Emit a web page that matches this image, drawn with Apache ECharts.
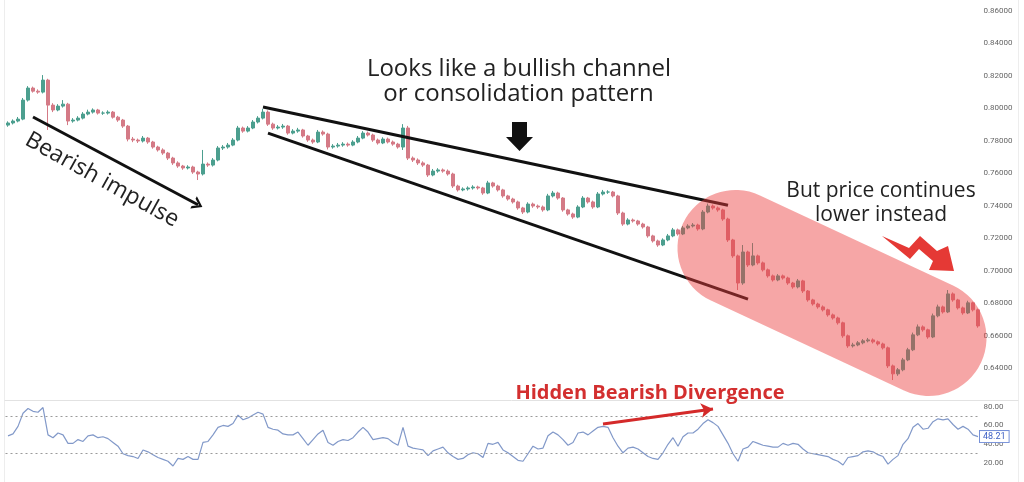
<!DOCTYPE html>
<html><head><meta charset="utf-8">
<script src="https://cdn.jsdelivr.net/npm/echarts@6/dist/echarts.min.js"></script>
<style>html,body{margin:0;padding:0;background:#fff}#c{width:1024px;height:482px}</style>
</head><body><div id="c"></div>
<script>
const opens=[
0.7895,0.7908,0.7920,0.7932,0.8049,0.8123,0.8104,0.8098,0.8172,0.8018,
0.7988,0.8012,0.8024,0.7920,0.7926,0.7938,0.7963,0.7975,0.7988,0.7969,
0.7969,0.7975,0.7944,0.7926,0.7889,0.7809,0.7803,0.7797,0.7815,0.7791,
0.7760,0.7742,0.7723,0.7692,0.7662,0.7643,0.7631,0.7637,0.7606,0.7594,
0.7655,0.7649,0.7680,0.7754,0.7760,0.7772,0.7803,0.7877,0.7858,0.7877,
0.7914,0.7938,0.7975,0.7901,0.7877,0.7883,0.7889,0.7846,0.7858,0.7865,
0.7828,0.7803,0.7791,0.7852,0.7840,0.7760,0.7766,0.7772,0.7778,0.7772,
0.7791,0.7815,0.7846,0.7834,0.7803,0.7785,0.7809,0.7791,0.7778,0.7760,
0.7877,0.7692,0.7680,0.7662,0.7649,0.7588,0.7612,0.7619,0.7612,0.7594,
0.7520,0.7496,0.7502,0.7508,0.7514,0.7508,0.7477,0.7539,0.7520,0.7496,
0.7459,0.7440,0.7422,0.7385,0.7360,0.7409,0.7397,0.7391,0.7373,0.7459,
0.7477,0.7446,0.7373,0.7348,0.7329,0.7391,0.7446,0.7422,0.7391,0.7471,
0.7483,0.7483,0.7459,0.7354,0.7286,0.7311,0.7305,0.7286,0.7268,0.7213,
0.7182,0.7157,0.7188,0.7213,0.7250,0.7225,0.7262,0.7274,0.7280,0.7256,
0.7360,0.7397,0.7385,0.7373,0.7317,0.7188,0.7090,0.6923,0.7114,0.7034,
0.7090,0.7047,0.7004,0.6967,0.6942,0.6967,0.6954,0.6923,0.6899,0.6936,
0.6874,0.6819,0.6794,0.6776,0.6758,0.6727,0.6708,0.6678,0.6598,0.6536,
0.6542,0.6555,0.6567,0.6573,0.6561,0.6548,0.6524,0.6413,0.6364,0.6389,
0.6450,0.6512,0.6604,0.6653,0.6635,0.6591,0.6721,0.6776,0.6745,0.6856,
0.6819,0.6770,0.6739,0.6801,0.6758];
const closes=[
0.7908,0.7920,0.7932,0.8049,0.8123,0.8104,0.8098,0.8172,0.8018,0.7988,
0.8012,0.8024,0.7920,0.7926,0.7938,0.7963,0.7975,0.7988,0.7969,0.7969,
0.7975,0.7944,0.7926,0.7889,0.7809,0.7803,0.7797,0.7815,0.7791,0.7760,
0.7742,0.7723,0.7692,0.7662,0.7643,0.7631,0.7637,0.7606,0.7594,0.7655,
0.7649,0.7680,0.7754,0.7760,0.7772,0.7803,0.7877,0.7858,0.7877,0.7914,
0.7938,0.7975,0.7901,0.7877,0.7883,0.7889,0.7846,0.7858,0.7865,0.7828,
0.7803,0.7791,0.7852,0.7840,0.7760,0.7766,0.7772,0.7778,0.7772,0.7791,
0.7815,0.7846,0.7834,0.7803,0.7785,0.7809,0.7791,0.7778,0.7760,0.7877,
0.7692,0.7680,0.7662,0.7649,0.7588,0.7612,0.7619,0.7612,0.7594,0.7520,
0.7496,0.7502,0.7508,0.7514,0.7508,0.7477,0.7539,0.7520,0.7496,0.7459,
0.7440,0.7422,0.7385,0.7360,0.7409,0.7397,0.7391,0.7373,0.7459,0.7477,
0.7446,0.7373,0.7348,0.7329,0.7391,0.7446,0.7422,0.7391,0.7471,0.7483,
0.7483,0.7459,0.7354,0.7286,0.7311,0.7305,0.7286,0.7268,0.7213,0.7182,
0.7157,0.7188,0.7213,0.7250,0.7225,0.7262,0.7274,0.7280,0.7256,0.7360,
0.7397,0.7385,0.7373,0.7317,0.7188,0.7090,0.6923,0.7114,0.7034,0.7090,
0.7047,0.7004,0.6967,0.6942,0.6967,0.6954,0.6923,0.6899,0.6936,0.6874,
0.6819,0.6794,0.6776,0.6758,0.6727,0.6708,0.6678,0.6598,0.6536,0.6542,
0.6555,0.6567,0.6573,0.6561,0.6548,0.6524,0.6413,0.6364,0.6389,0.6450,
0.6512,0.6604,0.6653,0.6635,0.6591,0.6721,0.6776,0.6745,0.6856,0.6819,
0.6770,0.6739,0.6801,0.6758,0.6659];
const lows=[
0.7885,0.7899,0.7912,0.7925,0.8040,0.8095,0.8088,0.8090,0.7865,0.7975,
0.7980,0.8003,0.7895,0.7910,0.7918,0.7930,0.7955,0.7966,0.7960,0.7958,
0.7960,0.7935,0.7915,0.7878,0.7795,0.7790,0.7785,0.7788,0.7780,0.7750,
0.7732,0.7712,0.7680,0.7650,0.7632,0.7620,0.7622,0.7595,0.7557,0.7585,
0.7638,0.7640,0.7672,0.7742,0.7750,0.7765,0.7795,0.7848,0.7850,0.7870,
0.7905,0.7930,0.7890,0.7866,0.7868,0.7872,0.7836,0.7838,0.7848,0.7818,
0.7792,0.7780,0.7784,0.7830,0.7745,0.7750,0.7756,0.7762,0.7762,0.7765,
0.7783,0.7808,0.7825,0.7792,0.7775,0.7778,0.7782,0.7768,0.7750,0.7742,
0.7680,0.7668,0.7650,0.7638,0.7576,0.7580,0.7602,0.7602,0.7584,0.7508,
0.7486,0.7488,0.7492,0.7498,0.7498,0.7466,0.7470,0.7510,0.7486,0.7448,
0.7430,0.7412,0.7374,0.7348,0.7352,0.7386,0.7380,0.7362,0.7365,0.7450,
0.7436,0.7362,0.7338,0.7318,0.7322,0.7384,0.7412,0.7380,0.7384,0.7462,
0.7472,0.7450,0.7342,0.7275,0.7278,0.7295,0.7276,0.7258,0.7202,0.7172,
0.7146,0.7150,0.7180,0.7205,0.7215,0.7218,0.7254,0.7265,0.7245,0.7248,
0.7352,0.7375,0.7362,0.7306,0.7176,0.7078,0.6880,0.6912,0.7022,0.7026,
0.7036,0.6994,0.6956,0.6932,0.6934,0.6944,0.6912,0.6888,0.6890,0.6862,
0.6808,0.6784,0.6765,0.6748,0.6716,0.6698,0.6667,0.6586,0.6524,0.6526,
0.6534,0.6546,0.6558,0.6551,0.6538,0.6514,0.6400,0.6326,0.6352,0.6380,
0.6442,0.6504,0.6596,0.6624,0.6580,0.6584,0.6712,0.6735,0.6738,0.6808,
0.6760,0.6728,0.6732,0.6748,0.6648];
const highs=[
0.7918,0.7930,0.7945,0.8062,0.8135,0.8132,0.8115,0.8203,0.8180,0.8030,
0.8024,0.8049,0.8032,0.7938,0.7950,0.7975,0.7990,0.7998,0.7995,0.7980,
0.7986,0.7982,0.7952,0.7933,0.7896,0.7822,0.7812,0.7828,0.7822,0.7798,
0.7768,0.7752,0.7730,0.7700,0.7672,0.7650,0.7648,0.7645,0.7614,0.7742,
0.7665,0.7692,0.7766,0.7772,0.7785,0.7815,0.7890,0.7886,0.7889,0.7926,
0.7950,0.7995,0.7985,0.7910,0.7895,0.7902,0.7896,0.7870,0.7878,0.7872,
0.7835,0.7812,0.7865,0.7862,0.7848,0.7778,0.7785,0.7790,0.7788,0.7802,
0.7828,0.7858,0.7855,0.7842,0.7812,0.7820,0.7818,0.7800,0.7786,0.7901,
0.7890,0.7702,0.7690,0.7672,0.7656,0.7625,0.7630,0.7628,0.7622,0.7602,
0.7528,0.7512,0.7518,0.7525,0.7522,0.7515,0.7552,0.7546,0.7528,0.7503,
0.7466,0.7448,0.7430,0.7392,0.7420,0.7418,0.7406,0.7400,0.7472,0.7490,
0.7485,0.7452,0.7380,0.7356,0.7402,0.7458,0.7453,0.7430,0.7483,0.7496,
0.7494,0.7490,0.7466,0.7362,0.7322,0.7320,0.7312,0.7294,0.7275,0.7220,
0.7190,0.7198,0.7225,0.7262,0.7258,0.7274,0.7285,0.7292,0.7288,0.7372,
0.7412,0.7406,0.7394,0.7380,0.7325,0.7195,0.7098,0.7157,0.7122,0.7169,
0.7098,0.7055,0.7012,0.6975,0.6978,0.6975,0.6962,0.6930,0.6948,0.6943,
0.6880,0.6826,0.6802,0.6785,0.6765,0.6735,0.6716,0.6685,0.6606,0.6555,
0.6566,0.6578,0.6585,0.6582,0.6569,0.6556,0.6532,0.6421,0.6400,0.6462,
0.6524,0.6618,0.6668,0.6662,0.6642,0.6735,0.6790,0.6784,0.6880,0.6865,
0.6826,0.6778,0.6814,0.6808,0.6766];
const rsi=[
49,51,59,73,78,75,74,79,50,47,
52,50,41,41,45,43,49,50,47,48,
46,42,38,30,28,27,25,34,32,29,
26,24,22,17,25,24,27,24,24,42,
43,50,58,60,59,62,71,66,68,71,
74,72,58,56,55,51,50,50,53,46,
39,45,51,55,42,39,43,45,44,47,
53,58,53,45,46,47,46,42,39,58,
38,36,35,34,28,33,35,37,31,27,
24,25,29,31,30,26,41,40,42,34,
31,27,23,22,30,38,35,36,49,53,
50,45,39,42,52,53,50,54,58,59,
58,47,38,31,36,37,35,31,27,25,
24,31,40,47,38,48,52,52,56,62,
66,63,59,50,41,30,22,35,37,43,
41,39,38,37,37,41,39,41,40,35,
31,30,29,28,27,24,22,18,26,27,
28,32,33,32,29,27,19,24,28,40,
46,58,62,56,57,64,67,66,67,61,
56,59,56,50,48.21];
const rsiLevels=[70,30];
const lastRsi=48.21;
const upperChannel=[[51,0.8006],[144,0.7402]];
const lowerChannel=[[52,0.7846],[148,0.6824]];
const impulseArrow=[[5,0.7945],[38,0.7405]];
const divergenceArrow=[[119,61.5],[141,77.5]];
const notes={
  channel1:'Looks like a bullish channel',
  channel2:'or consolidation pattern',
  lower1:'But price continues',
  lower2:'lower instead',
  impulse:'Bearish impulse',
  divergence:'Hidden Bearish Divergence'
};

const UP='#4c9f8f', DOWN='#d47a86';
const categories=closes.map((_,i)=>String(i+1));
const candles=closes.map((c,i)=>[opens[i],c,lows[i],highs[i]]);
const chevron='path://M0,10 L5,0 L10,10 L8,10 L5,3.8 L2,10 Z';

const chart=echarts.init(document.getElementById('c'));
chart.setOption({
  animation:false,
  backgroundColor:'#fff',
  grid:[
    {left:5.5,right:43.5,top:0,height:400.5},
    {left:5.5,right:43.5,top:400,height:82}
  ],
  xAxis:[
    {type:'category',data:categories,gridIndex:0,show:false,boundaryGap:true},
    {type:'category',data:categories,gridIndex:1,show:false,boundaryGap:true}
  ],
  yAxis:[
    {type:'value',gridIndex:0,position:'right',min:0.62,max:0.8665,interval:0.02,
     splitLine:{show:false},axisLine:{show:false},axisTick:{show:false},
     axisLabel:{showMinLabel:false,showMaxLabel:false,formatter:v=>v.toFixed(5),color:'#666',fontSize:8,fontFamily:'Roboto',margin:3}},
    {type:'value',gridIndex:1,position:'right',min:0,max:87,interval:20,
     splitLine:{show:false},axisLine:{show:false},axisTick:{show:false},
     axisLabel:{showMinLabel:false,showMaxLabel:false,formatter:v=>v.toFixed(2),color:'#666',fontSize:8,fontFamily:'Roboto',margin:3}}
  ],
  series:[
    {type:'candlestick',xAxisIndex:0,yAxisIndex:0,data:candles,barWidth:3,
     itemStyle:{color:UP,color0:DOWN,borderColor:UP,borderColor0:DOWN,borderWidth:1},
     markLine:{silent:true,animation:false,symbol:['none','none'],label:{show:false},
       lineStyle:{color:'#111',width:3,type:'solid'},
       emphasis:{disabled:true},
       data:[
         [{coord:upperChannel[0]},{coord:upperChannel[1]}],
         [{coord:lowerChannel[0]},{coord:lowerChannel[1]}],
         [{coord:impulseArrow[0]},{coord:impulseArrow[1],symbol:chevron,symbolSize:[14,10]}]
       ]}
    },
    {type:'line',xAxisIndex:1,yAxisIndex:1,data:rsi,showSymbol:false,symbol:'none',
     lineStyle:{color:'#8299c9',width:1.2},
     markLine:{silent:true,animation:false,symbol:['none','none'],label:{show:false},
       emphasis:{disabled:true},
       data:[
         {yAxis:rsiLevels[0],lineStyle:{color:'#9a9a9a',width:1,type:[2,3]}},
         {yAxis:rsiLevels[1],lineStyle:{color:'#9a9a9a',width:1,type:[2,3]}},
         [{coord:divergenceArrow[0],lineStyle:{color:'#d42a2a',width:3,type:'solid'}},
          {coord:divergenceArrow[1],symbol:'arrow',symbolSize:[11,12]}]
       ]}
    }
  ]
});

const rsiY=chart.convertToPixel({yAxisIndex:1},lastRsi);
const txt=(x,y,text,font,fill,extra)=>Object.assign({type:'text',x:x,y:y,z:120,silent:true,
  style:{text:text,font:font,fill:fill,textAlign:'center',textVerticalAlign:'middle'}},extra||{});
chart.setOption({
  graphic:[
    {type:'line',silent:true,z:1,shape:{x1:4.5,y1:0,x2:4.5,y2:482},style:{stroke:'#ededed',lineWidth:1}},
    {type:'line',silent:true,z:1,shape:{x1:1018.5,y1:0,x2:1018.5,y2:482},style:{stroke:'#ededed',lineWidth:1}},
    {type:'line',silent:true,z:1,shape:{x1:4.5,y1:400.5,x2:1018.5,y2:400.5},style:{stroke:'#e2e2e2',lineWidth:1}},
    {type:'rect',silent:true,z:100,x:832,y:293,rotation:-25*Math.PI/180,
     shape:{x:-164.5,y:-58,width:329,height:116,r:58},style:{fill:'rgba(235,60,60,0.46)'}},
    {type:'polygon',silent:true,z:110,shape:{points:[[512,122],[527,122],[527,137],[533,137],[519.5,151],[506,137],[512,137]]},style:{fill:'#111'}},
    {type:'polygon',silent:true,z:110,shape:{points:[[882,236],[909,248],[920,236],[937,251],[948,246],[954,271],[929,270],[933,261],[919,249],[910,259]]},style:{fill:'#e53935'}},
    txt(519,69,notes.channel1,'24px "Open Sans"','#222'),
    txt(518.5,94,notes.channel2,'24px "Open Sans"','#222'),
    txt(881,191,notes.lower1,'21px "Open Sans"','#222'),
    txt(881,215,notes.lower2,'21px "Open Sans"','#222'),
    txt(102,180,notes.impulse,'23px "Open Sans"','#222',{rotation:-29*Math.PI/180}),
    txt(650,393,notes.divergence,'bold 20px "Open Sans"','#d32f2f'),
    {type:'text',silent:true,z:120,x:980,y:rsiY,
     style:{text:String(lastRsi),font:'9px Roboto',fill:'#3d5fc4',backgroundColor:'#fff',
       borderColor:'#7590d8',borderWidth:1,padding:[1,3],textAlign:'left',textVerticalAlign:'middle'}}
  ]
});
</script></body></html>
